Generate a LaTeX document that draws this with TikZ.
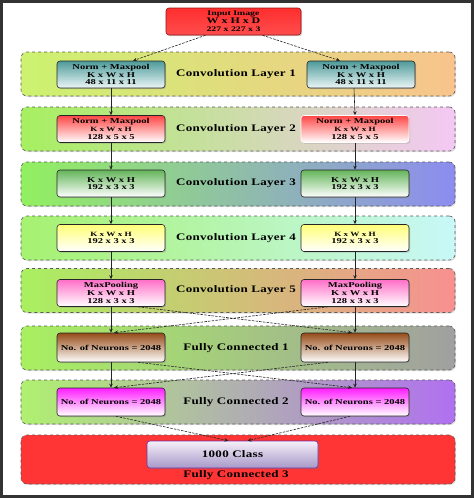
\documentclass[tikz,border=0pt]{standalone}
\usepackage{fontspec}
\setmainfont{Liberation Serif}
\newfontfamily\boxfont{Liberation Serif}[FakeStretch=1.4]
\newfontfamily\labfont{Liberation Serif}[FakeStretch=1.3,LetterSpace=3]
\usetikzlibrary{shadows,arrows.meta}
\definecolor{inred}{HTML}{FF2E2E}
\tikzset{
  band/.style={draw=black!65, dashed, rounded corners=6pt, line width=0.6pt,
    minimum width=434pt, minimum height=44pt, inner sep=0pt,
    drop shadow={opacity=0.25, shadow xshift=1pt, shadow yshift=-1pt}},
  cell/.style={draw=black!85, rounded corners=3pt, line width=0.6pt,
    minimum width=108pt, minimum height=27pt, inner sep=1pt, align=center,
    font=\boxfont\bfseries\fontsize{7.5}{7.8}\selectfont, bottom color=white,
    drop shadow={opacity=0.35, shadow xshift=1.2pt, shadow yshift=-1.2pt}},
  lab/.style={font=\labfont\bfseries\fontsize{10}{11}\selectfont, inner sep=0pt},
  conn/.style={-{Stealth[length=4pt,width=3.5pt]}, line width=0.6pt, black!85},
  dconn/.style={conn, dashed, dash pattern=on 2.5pt off 1.2pt},
}
\begin{document}
\begin{tikzpicture}[x=1pt,y=-1pt]
\useasboundingbox (0,0) rectangle (474,498);
\fill[white] (0,0) rectangle (474,498);
\draw[line width=3pt, black!80] (1.5,1.5) rectangle (472.5,496.5);

% bands
\node[band, left color={rgb,255:red,204;green,242;blue,112}, middle color={rgb,255:red,226;green,234;blue,130}, right color={rgb,255:red,248;green,196;blue,140}] (band1) at (238,74) {};
\node[band, left color={rgb,255:red,166;green,240;blue,96}, middle color={rgb,255:red,218;green,222;blue,160}, right color={rgb,255:red,244;green,200;blue,244}] (band2) at (238,129) {};
\node[band, left color={rgb,255:red,146;green,240;blue,96}, middle color={rgb,255:red,150;green,200;blue,170}, right color={rgb,255:red,140;green,140;blue,240}] (band3) at (238,184) {};
\node[band, left color={rgb,255:red,166;green,242;blue,112}, middle color={rgb,255:red,180;green,244;blue,180}, right color={rgb,255:red,200;green,248;blue,248}] (band4) at (238,238) {};
\node[band, left color={rgb,255:red,168;green,240;blue,96}, middle color={rgb,255:red,216;green,200;blue,130}, right color={rgb,255:red,248;green,144;blue,144}] (band5) at (238,290.5) {};
\node[band, left color={rgb,255:red,168;green,240;blue,96}, middle color={rgb,255:red,170;green,200;blue,130}, right color={rgb,255:red,160;green,160;blue,160}] (band6) at (238,348) {};
\node[band, left color={rgb,255:red,176;green,240;blue,112}, middle color={rgb,255:red,176;green,176;blue,170}, right color={rgb,255:red,176;green,112;blue,240}] (band7) at (238,402) {};
\node[band, fill={rgb,255:red,255;green,52;blue,52}, minimum height=49pt] (band8) at (238,459.5) {};

% input
\node[cell, draw={rgb,255:red,150;green,20;blue,20}, top color=inred, bottom color=inred!85!white, minimum width=135pt, font=\boxfont\bfseries\fontsize{7}{7.8}\selectfont] (inp) at (233.5,21.5) {Input Image\\{\fontsize{8.5}{8.5}\selectfont W x H x D}\\227 x 227 x 3};

% layer 1
\node[cell, top color={rgb,255:red,78;green,154;blue,154}, bottom color={rgb,255:red,236;green,246;blue,246}] (a1) at (111,74.5) {Norm + Maxpool\\K x W x H\\48 x 11 x 11};
\node[cell, top color={rgb,255:red,78;green,154;blue,154}, bottom color={rgb,255:red,236;green,246;blue,246}] (b1) at (361,74.5) {Norm + Maxpool\\K x W x H\\48 x 11 x 11};
\node[lab] (l1) at (236,74) {Convolution Layer 1};

% layer 2
\node[cell, top color={rgb,255:red,255;green,70;blue,70}] (a2) at (111,129) {Norm + Maxpool\\{\fontsize{6.5}{7}\selectfont K x W x H}\\128 x 5 x 5};
\node[cell, draw=white, top color={rgb,255:red,255;green,70;blue,70}] (b2) at (355,129) {Norm + Maxpool\\{\fontsize{6.5}{7}\selectfont K x W x H}\\128 x 5 x 5};
\node[lab] (l2) at (236,129) {Convolution Layer 2};

% layer 3
\node[cell, top color={rgb,255:red,100;green,180;blue,90}] (a3) at (111,183.5) {K x W x H\\192 x 3 x 3};
\node[cell, top color={rgb,255:red,100;green,180;blue,90}] (b3) at (355,183.5) {K x W x H\\192 x 3 x 3};
\node[lab] (l3) at (236,183) {Convolution Layer 3};

% layer 4
\node[cell, top color={rgb,255:red,255;green,255;blue,120}] (a4) at (111,238) {{\fontsize{6.5}{7}\selectfont K x W x H}\\192 x 3 x 3};
\node[cell, top color={rgb,255:red,255;green,255;blue,120}] (b4) at (355,238) {{\fontsize{6.5}{7}\selectfont K x W x H}\\192 x 3 x 3};
\node[lab] (l4) at (236,238) {Convolution Layer 4};

% layer 5
\node[cell, top color={rgb,255:red,255;green,110;blue,200}] (a5) at (111,293) {MaxPooling\\K x W x H\\128 x 3 x 3};
\node[cell, top color={rgb,255:red,255;green,110;blue,200}] (b5) at (355,293) {MaxPooling\\K x W x H\\128 x 3 x 3};
\node[lab] (l5) at (236,290) {Convolution Layer 5};

% FC1
\node[cell, top color={rgb,255:red,150;green,76;blue,24}, minimum height=29pt] (a6) at (111,347.5) {No. of Neurons = 2048};
\node[cell, top color={rgb,255:red,150;green,76;blue,24}, minimum height=29pt] (b6) at (355,347.5) {No. of Neurons = 2048};
\node[lab] (l6) at (236,348) {Fully Connected 1};

% FC2
\node[cell, top color={rgb,255:red,255;green,30;blue,255}, minimum height=28pt] (a7) at (111,402) {No. of Neurons = 2048};
\node[cell, top color={rgb,255:red,255;green,30;blue,255}, minimum height=28pt] (b7) at (355,402) {No. of Neurons = 2048};
\node[lab] (l7) at (236,402) {Fully Connected 2};

% FC3
\node[cell, draw={rgb,255:red,112;green,48;blue,160}, top color={rgb,255:red,246;green,240;blue,250}, bottom color={rgb,255:red,168;green,152;blue,200}, minimum width=171pt, font=\labfont\bfseries\fontsize{10}{11}\selectfont] (cls) at (232.5,454.5) {1000 Class};
\node[lab] (l8) at (236,475.5) {Fully Connected 3};

% connectors
\draw[dconn] ([xshift=-28pt]inp.south) -- ([xshift=22pt]a1.north);
\draw[dconn] ([xshift=29pt]inp.south) -- ([xshift=-21pt]b1.north);
\draw[conn] (a1) -- (a2);
\draw[conn] ([xshift=-7pt]b1.south) -- (b2.north);
\draw[conn] (a2) -- (a3);
\draw[conn] (b2) -- (b3);
\draw[conn] (a3) -- (a4);
\draw[conn] (b3) -- (b4);
\draw[conn] (a4) -- (a5);
\draw[conn] (b4) -- (b5);
\draw[conn] (a5) -- (a6);
\draw[conn] (b5) -- (b6);
\draw[dconn] ([xshift=27pt]a5.south) -- ([xshift=-3pt]b6.north);
\draw[dconn] ([xshift=-27pt]b5.south) -- ([xshift=3pt]a6.north);
\draw[conn] (a6) -- (a7);
\draw[conn] (b6) -- (b7);
\draw[dconn] ([xshift=27pt]a6.south) -- ([xshift=-3pt]b7.north);
\draw[dconn] ([xshift=-27pt]b6.south) -- ([xshift=3pt]a7.north);
\draw[dconn] ([xshift=5pt]a7.south) -- ([xshift=-4pt]cls.north);
\draw[dconn] ([xshift=-5pt]b7.south) -- ([xshift=15pt]cls.north);
\end{tikzpicture}
\end{document}
